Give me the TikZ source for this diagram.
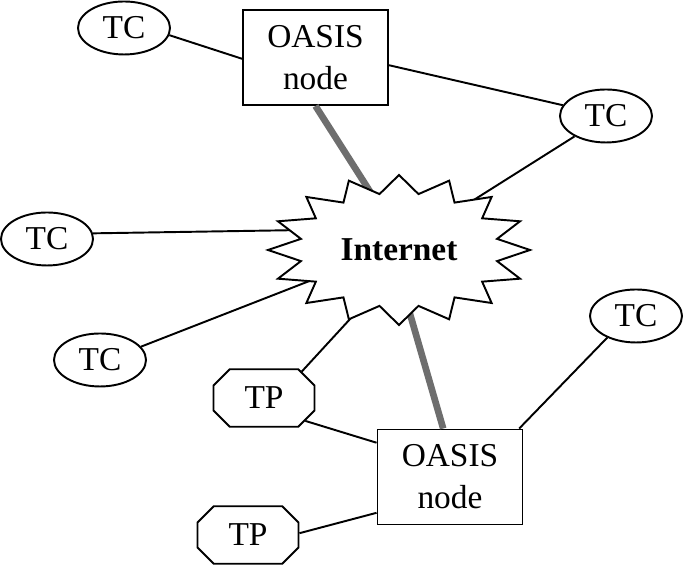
\documentclass[tikz,border=0pt]{standalone}
\usepackage{fontspec}
\setmainfont{Liberation Serif}
\usetikzlibrary{shapes.geometric,shapes.misc}

\tikzset{
  lbl/.style={font=\fontsize{19}{24}\selectfont, inner sep=0pt},
  tc/.style={lbl, draw, ellipse, line width=1.1pt, minimum width=1.84cm, minimum height=1.06cm},
  tp/.style={lbl, draw, chamfered rectangle, chamfered rectangle xsep=0.34cm, line width=1.1pt, minimum width=2.02cm, minimum height=1.15cm},
  oasis/.style={lbl, draw, rectangle, align=center, line width=1.1pt, minimum width=2.9cm, minimum height=1.9cm},
  link/.style={line width=1.1pt},
  trunk/.style={line width=3.8pt, draw=black!57}
}

\begin{document}
\begin{tikzpicture}
\useasboundingbox (0,0) rectangle (13.7,11.3);
% the net in the middle
\node[ellipse, inner sep=0pt, minimum width=4cm, minimum height=2.28cm] (inet) at (7.98,6.30) {};
% terminals and OASIS nodes
\node[oasis] (oasisA) at (6.31,10.15) {OASIS\\node};
\node[oasis] (oasisB) at (9.0,1.76) {OASIS\\node};
\node[tc] (tcA) at (2.48,10.74) {TC};
\node[tc] (tcB) at (12.12,8.98) {TC};
\node[tc] (tcC) at (0.94,6.52) {TC};
\node[tc] (tcD) at (2.0,4.1) {TC};
\node[tc] (tcE) at (12.72,4.98) {TC};
\node[tp] (tpA) at (5.28,3.34) {TP};
\node[tp] (tpB) at (4.96,0.6) {TP};
% links
\draw[link] (tcA.-9) -- (oasisA.181);
\draw[link] (oasisA.-6) -- (tcB.166);
\draw[link] (tcB.213) -- (inet.34);
\draw[link] (tcC.7) -- (inet.168);
\draw[link] (tcD.18) -- (inet.199);
\draw[link] (tpA.35) -- (inet.237);
\draw[link] (tpA.-29) -- (oasisB.155);
\draw[link] (tpB.2) -- (oasisB.206);
\draw[link] (tcE.217) -- (oasisB.35);
\draw[trunk] (oasisA.south) -- (inet.116);
\draw[trunk] (inet.279) -- (oasisB.98);
% the star, drawn over the link ends
\draw[line width=1.1pt, fill=white, shift={(inet.center)}] (2.62,0)
  \foreach \k in {0,...,15} {
    -- ({2.0*cos(\k*22.5+11.25)},{1.14*sin(\k*22.5+11.25)})
    -- ({2.62*cos(\k*22.5+22.5)},{1.5*sin(\k*22.5+22.5)})
  } -- cycle;
\node[lbl, font=\fontsize{19}{24}\selectfont\bfseries] at (inet) {Internet};
\end{tikzpicture}
\end{document}
